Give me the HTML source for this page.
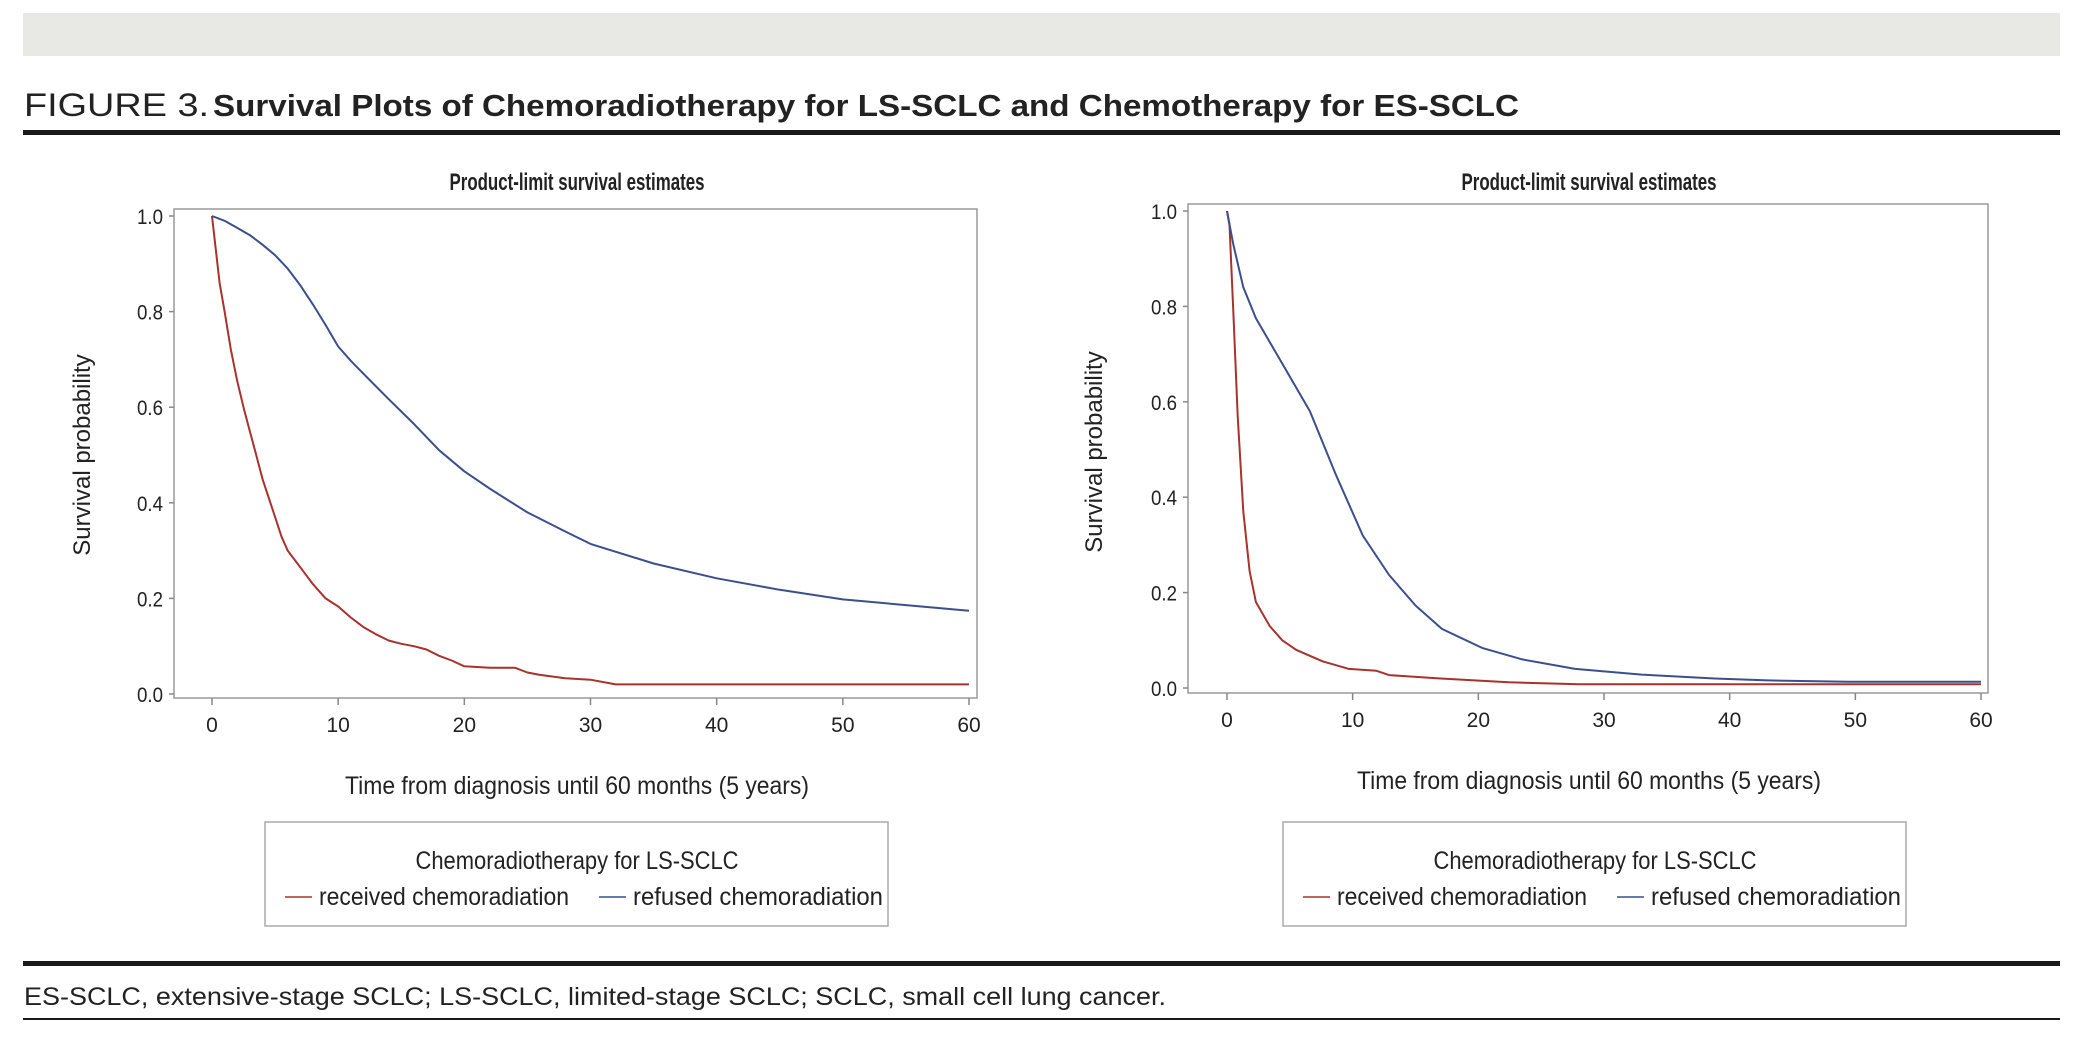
<!DOCTYPE html>
<html><head><meta charset="utf-8"><style>
html,body{margin:0;padding:0;background:#fff;}
svg{display:block;}
text{font-family:"Liberation Sans Narrow","Liberation Sans",sans-serif;fill:#222;}
</style></head><body>
<svg id="fig" width="2086" height="1047" viewBox="0 0 2086 1047" xmlns="http://www.w3.org/2000/svg">
<rect x="23" y="13" width="2037" height="43" fill="#e8e8e4"/>
<text x="24" y="116" font-size="32" textLength="185" lengthAdjust="spacingAndGlyphs" style="font-weight:300">FIGURE 3.</text>
<text x="213" y="116" font-size="31" font-weight="bold" textLength="1306" lengthAdjust="spacingAndGlyphs" fill="#111">Survival Plots of Chemoradiotherapy for LS-SCLC and Chemotherapy for ES-SCLC</text>
<rect x="23" y="130" width="2037" height="5" fill="#1a1a1a"/>
<g id="p1"></g>
<g id="p2"></g>
<rect x="23" y="961" width="2037" height="5" fill="#1a1a1a"/>
<text x="24" y="1005" font-size="25" textLength="1142" lengthAdjust="spacingAndGlyphs">ES-SCLC, extensive-stage SCLC; LS-SCLC, limited-stage SCLC; SCLC, small cell lung cancer.</text>
<rect x="23" y="1018" width="2037" height="2" fill="#1a1a1a"/>
</svg>
<script>
const xTicks=[0,10,20,30,40,50,60];
const yTicks=[0.0,0.2,0.4,0.6,0.8,1.0];
const yTickLabels=["0.0","0.2","0.4","0.6","0.8","1.0"];
const lsMonths=[0,0.3,0.6,1,1.5,2,2.5,3,3.5,4,4.5,5,5.5,6,7,8,9,10,11,12,13,14,15,16,17,18,19,20,22,24,25,26,28,30,32,40,50,60];
const lsReceived=[1,0.93,0.86,0.8,0.72,0.655,0.6,0.55,0.5,0.45,0.41,0.37,0.33,0.3,0.265,0.23,0.2,0.183,0.16,0.14,0.125,0.112,0.105,0.1,0.093,0.08,0.07,0.058,0.055,0.055,0.045,0.04,0.033,0.03,0.02,0.02,0.02,0.02];
const lsRefMonths=[0,1,2,3,4,5,6,7,8,9,10,11,12,14,16,18,20,22,25,28,30,35,40,45,50,55,60];
const lsRefused=[1,0.99,0.975,0.96,0.94,0.918,0.89,0.855,0.815,0.772,0.727,0.697,0.67,0.617,0.565,0.51,0.466,0.43,0.38,0.34,0.314,0.273,0.242,0.218,0.198,0.186,0.174];
const esRecMonths=[0,0.2,0.5,0.85,1.3,1.8,2.3,3.4,4.4,5.5,7.6,9.7,11.9,12.9,17,22.4,28,40,50,60];
const esReceived=[1,0.97,0.79,0.57,0.37,0.245,0.18,0.13,0.1,0.08,0.056,0.04,0.036,0.027,0.02,0.012,0.008,0.008,0.008,0.008];
const esRefMonths=[0,0.5,1.3,2.3,4.4,6.6,8.7,10.8,12.9,15,17.1,20.3,23.5,27.7,33,38.8,43,49.4,60];
const esRefused=[1,0.93,0.84,0.775,0.68,0.58,0.445,0.32,0.237,0.173,0.124,0.084,0.06,0.04,0.028,0.02,0.016,0.013,0.013];
const NS='http://www.w3.org/2000/svg';
function mk(tag,attrs,parent,txt){const e=document.createElementNS(NS,tag);for(const k in attrs)e.setAttribute(k,attrs[k]);if(txt!==undefined)e.textContent=txt;parent.appendChild(e);return e;}
function chart(g,cfg,series){
  const xs=v=>cfg.x0+(cfg.x60-cfg.x0)*v/60;
  const ys=v=>cfg.y0-(cfg.y0-cfg.y1)*v;
  const t=mk('text',{x:cfg.tx,y:cfg.ty,'font-size':24,'text-anchor':'middle','font-weight':'bold',textLength:255,lengthAdjust:'spacingAndGlyphs'},g,'Product-limit survival estimates');
  
  
  const fr=mk('rect',{x:cfg.fl,y:cfg.ft,width:cfg.fr-cfg.fl,height:cfg.fb-cfg.ft,fill:'none',stroke:'#9a9a9a','stroke-width':1.5},g);
  
  
  yTicks.forEach((v,i)=>{
    const tk=mk('line',{x1:cfg.fl-5,x2:cfg.fl,y1:ys(v),y2:ys(v),stroke:'#888','stroke-width':1.5},g);
    
    
    const l=mk('text',{x:cfg.fl-11,y:ys(v)+8,'font-size':21,'text-anchor':'end',textLength:26,lengthAdjust:'spacingAndGlyphs'},g,yTickLabels[i]);
    
    
  });
  xTicks.forEach(v=>{
    const tk=mk('line',{x1:xs(v),x2:xs(v),y1:cfg.fb,y2:cfg.fb+7,stroke:'#888','stroke-width':1.5},g);
    
    
    const l=mk('text',{x:xs(v),y:cfg.fb+34,'font-size':21,'text-anchor':'middle'},g,String(v));
    
    
  });
  const yl=mk('text',{x:0,y:0,'font-size':24,'text-anchor':'middle',transform:`translate(${cfg.ylx},${cfg.yly}) rotate(-90)`,style:'font-family:"Liberation Sans",sans-serif'},g,'Survival probability');
  
  
  const xl=mk('text',{x:cfg.tx,y:cfg.fb+96,'font-size':25,'text-anchor':'middle',textLength:464,lengthAdjust:'spacingAndGlyphs'},g,'Time from diagnosis until 60 months (5 years)');
  
  
  series.forEach(s=>{
    const pts=s.m.map((m,i)=>xs(m).toFixed(1)+','+ys(s.v[i]).toFixed(1)).join(' ');
    const p=mk('polyline',{points:pts,fill:'none',stroke:s.c,'stroke-width':2,'stroke-linejoin':'round'},g);
    
    
  });
  const lg=mk('g',{},g);
  
  
  const lb=mk('rect',{x:cfg.lx,y:822,width:623,height:104,fill:'none',stroke:'#aaa','stroke-width':1.5},lg);
  
  
  const ltt=mk('text',{x:cfg.lx+312,y:869,'font-size':25,'text-anchor':'middle',textLength:323,lengthAdjust:'spacingAndGlyphs'},lg,'Chemoradiotherapy for LS-SCLC');
  
  
  [['received chemoradiation','#a8322d',20,'legend-entry-received'],['refused chemoradiation','#3b4f8c',334,'legend-entry-refused']].forEach(e=>{
    const ln=mk('line',{x1:cfg.lx+e[2],x2:cfg.lx+e[2]+27,y1:897,y2:897,stroke:e[1],'stroke-width':1.5},lg);
    
    
    const tx=mk('text',{x:cfg.lx+e[2]+34,y:905,'font-size':25,textLength:250,lengthAdjust:'spacingAndGlyphs'},lg,e[0]);
    
    
  });
}
chart(document.getElementById('p1'),{x0:212,x60:969,y0:694,y1:216,fl:174,fr:977,ft:209,fb:698,tx:577,ty:190,ylx:90,yly:455,lx:265},
  [{m:lsMonths,v:lsReceived,c:'#a8322d',n:'line-received'},{m:lsRefMonths,v:lsRefused,c:'#3b4f8c',n:'line-refused'}]);
chart(document.getElementById('p2'),{x0:1227,x60:1981,y0:688,y1:211,fl:1188,fr:1988,ft:204,fb:693,tx:1589,ty:190,ylx:1102,yly:452,lx:1283},
  [{m:esRecMonths,v:esReceived,c:'#a8322d',n:'line-received'},{m:esRefMonths,v:esRefused,c:'#3b4f8c',n:'line-refused'}]);
</script>
</body></html>
